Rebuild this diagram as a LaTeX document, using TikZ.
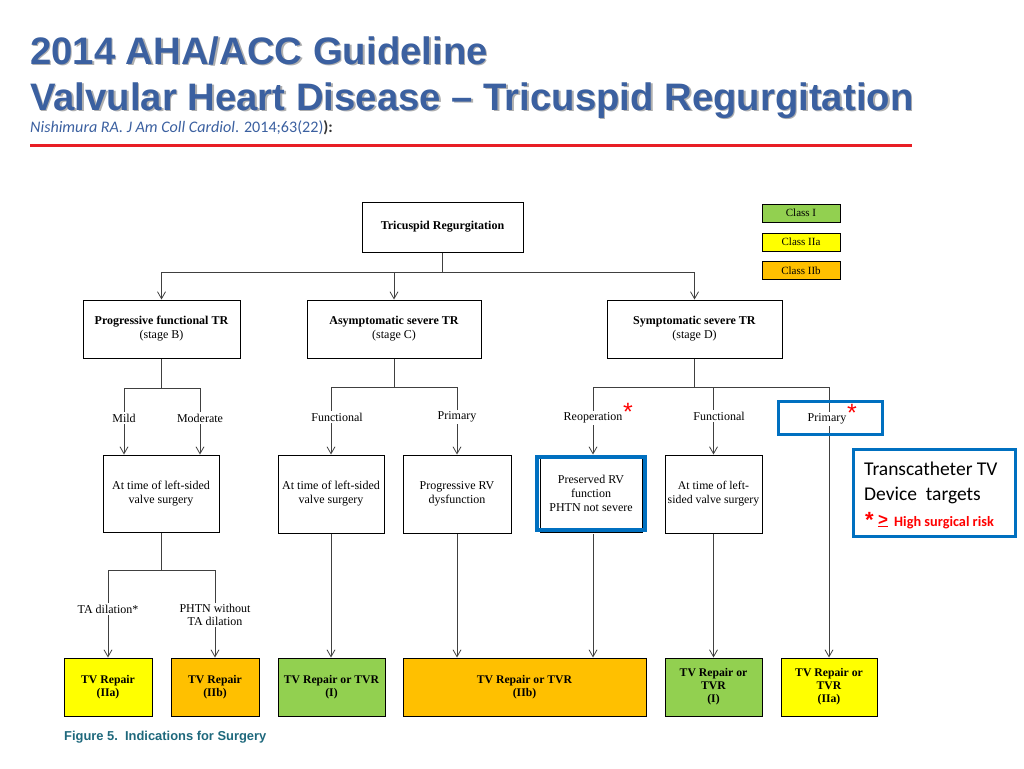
\documentclass[tikz,border=0pt]{standalone}
\usepackage{fontspec}
\setmainfont{Liberation Serif}
\newfontfamily\titlefont{Liberation Sans}
\newfontfamily\calfont{Carlito}
\usetikzlibrary{arrows.meta}
\definecolor{ttl}{RGB}{59,96,160}
\definecolor{ttlshadow}{RGB}{175,175,175}
\definecolor{redline}{RGB}{232,30,37}
\definecolor{cgreen}{RGB}{146,208,80}
\definecolor{cyellow}{RGB}{255,255,0}
\definecolor{corange}{RGB}{255,192,0}
\definecolor{hblue}{RGB}{0,112,192}
\definecolor{lgray}{RGB}{64,64,64}
\definecolor{capcol}{RGB}{30,104,124}
\tikzset{
  box/.style={draw=black, line width=1pt, align=center, inner sep=1pt,
    font=\fontsize{12}{14}\selectfont},
  legbox/.style={box, minimum width=78, minimum height=18, font=\fontsize{11}{12}\selectfont},
  endbox/.style={box, minimum height=58, font=\fontsize{11.7}{13}\selectfont\bfseries},
  conn/.style={draw=lgray, line width=0.9pt},
  arr/.style={conn, -{Straight Barb[length=7pt,width=8pt,line width=0.8pt]}},
  lbl/.style={fill=white, inner sep=1.5pt, align=center, font=\fontsize{12}{13.5}\selectfont},
  ast/.style={text=red, inner sep=0pt, font=\titlefont\fontsize{25}{25}\selectfont},
  hbox/.style={draw=hblue, line width=3.8pt},
  ttlstyle/.style={anchor=base west, inner sep=0, font=\titlefont\bfseries\fontsize{38.3}{40}\selectfont},
  transtxt/.style={anchor=base west, inner sep=0, font=\calfont\fontsize{19.5}{22}\selectfont},
}
\begin{document}
\begin{tikzpicture}[x=1pt,y=-1pt]
\useasboundingbox (0,0) rectangle (1024,768);
% title
\node[ttlstyle, text=ttlshadow] at (31.5,65.5) {2014 AHA/ACC Guideline};
\node[ttlstyle, text=ttl] (t1) at (30,64) {2014 AHA/ACC Guideline};
\node[ttlstyle, text=ttlshadow] at (31.5,111.5) {Valvular Heart Disease – Tricuspid Regurgitation};
\node[ttlstyle, text=ttl] (t2) at (30,110) {Valvular Heart Disease – Tricuspid Regurgitation};
\node[anchor=base west, inner sep=0, text=ttl, font=\calfont\fontsize{16.1}{18}\selectfont] (t3) at (30,132) {\itshape Nishimura RA. J Am Coll Cardiol\upshape . 2014;63(22)\textbf{\color{black!80}):}};
\draw[redline, line width=3pt] (30,145) -- (912,145);

% legend
\node[legbox, fill=cgreen] (cI) at (801,213) {Class I};
\node[legbox, fill=cyellow] (cIIa) at (801,242) {Class IIa};
\node[legbox, fill=corange] (cIIb) at (801,270.5) {Class IIb};

% main boxes
\node[box, minimum width=161, minimum height=50, font=\fontsize{12}{14}\selectfont\bfseries] (tr) at (442.5,227) {Tricuspid Regurgitation};
\node[box, minimum width=157, minimum height=58] (pB) at (161.5,329) {\textbf{Progressive functional TR}\\(stage B)};
\node[box, minimum width=174, minimum height=58] (pC) at (394,329) {\textbf{Asymptomatic severe TR}\\(stage C)};
\node[box, minimum width=175, minimum height=58] (pD) at (694.5,329) {\textbf{Symptomatic severe TR}\\(stage D)};

\node[box, minimum width=116, minimum height=77] (bA) at (161,493.5) {At time of left-sided\\valve surgery};
\node[box, minimum width=106, minimum height=78] (cF) at (331,494) {At time of left-sided\\valve surgery};
\node[box, minimum width=108, minimum height=78] (cP) at (457,494) {Progressive RV\\dysfunction};
\node[box, minimum width=102, minimum height=77] (dR) at (591,493.5) {Preserved RV\\function\\PHTN not severe};
\draw[hblue, line width=3.8pt] ([shift={(-2.5,2.5)}]dR.north west) rectangle ([shift={(2.5,-2.5)}]dR.south east);
\node[box, minimum width=97, minimum height=78, font=\fontsize{11.8}{14}\selectfont] (dF) at (713.5,494) {At time of left-\\sided valve surgery};

% end boxes
\node[endbox, fill=cyellow, minimum width=88] (b1) at (108,687) {TV Repair\\(IIa)};
\node[endbox, fill=corange, minimum width=88] (b2) at (215,687) {TV Repair\\(IIb)};
\node[endbox, fill=cgreen, minimum width=107] (b3) at (331.5,687) {TV Repair or TVR\\(I)};
\node[endbox, fill=corange, minimum width=243] (b4) at (524.5,687) {TV Repair or TVR\\(IIb)};
\node[endbox, fill=cgreen, minimum width=97] (b5) at (713.5,687) {TV Repair or\\TVR\\(I)};
\node[endbox, fill=cyellow, minimum width=96] (b6) at (829,687) {TV Repair or\\TVR\\(IIa)};

% connectors level 1
\coordinate (jT) at (442.5,272);
\draw[conn] (tr.south) -- (jT);
\draw[conn] (pB.north |- jT) -- (pD.north |- jT);
\draw[arr] (pB.north |- jT) -- (pB.north);
\draw[arr] (pC.north |- jT) -- (pC.north);
\draw[arr] (pD.north |- jT) -- (pD.north);

% B branch
\coordinate (jB) at (161.5,388);
\coordinate (jB1) at (124,388);
\coordinate (jB2) at (200,388);
\draw[conn] (pB.south) -- (jB);
\draw[conn] (jB1) -- (jB2);
\draw[arr] (jB1) -- (jB1 |- bA.north);
\draw[arr] (jB2) -- (jB2 |- bA.north);
\coordinate (jA) at (161,570);
\coordinate (jA1) at (108,570);
\coordinate (jA2) at (215,570);
\draw[conn] (bA.south) -- (jA);
\draw[conn] (jA1) -- (jA2);
\draw[arr] (jA1) -- (b1.north);
\draw[arr] (jA2) -- (b2.north);

% C branch
\coordinate (jC) at (394,387);
\coordinate (jC1) at (331,387);
\coordinate (jC2) at (457,387);
\draw[conn] (pC.south) -- (jC);
\draw[conn] (jC1) -- (jC2);
\draw[arr] (jC1) -- (cF.north);
\draw[arr] (jC2) -- (cP.north);
\draw[arr] (cF.south) -- (cF.south |- b3.north);
\draw[arr] (cP.south) -- (cP.south |- b4.north);

% D branch
\coordinate (jD) at (694.5,387);
\coordinate (jD1) at (593,387);
\coordinate (jD2) at (713.5,387);
\coordinate (jD3) at (829,387);
\draw[conn] (pD.south) -- (jD);
\draw[conn] (jD1) -- (jD3);
\draw[arr] (jD1) -- (jD1 |- dR.north);
\draw[arr] (jD2) -- (dF.north);
\draw[arr] (jD3) -- (b6.north);
\coordinate (dRb) at (593,534);
\draw[arr] (dRb) -- (dRb |- b4.north);
\draw[arr] (dF.south) -- (dF.south |- b5.north);

% labels
\node[lbl] (lMild) at (124,418) {Mild};
\node[lbl] (lMod) at (200,418) {Moderate};
\node[lbl] (lFC) at (337,417) {Functional};
\node[lbl] (lPC) at (457,417) {Primary};
\node[lbl] (lTA) at (108,609) {TA dilation*};
\node[lbl] (lPH) at (215,615) {PHTN without\\TA dilation};
\node[lbl] (lRe) at (593,418) {Reoperation};
\node[ast, anchor=west] (aRe) at (lRe.east) [yshift=6pt, xshift=-1pt] {*};
\node[lbl] (lFD) at (719,416) {Functional};
\node[hbox, minimum width=104, minimum height=33, inner sep=0] (pbox) at (830.5,418) {};
\node[lbl] (lPD) at (827,419) {Primary};
\node[ast, anchor=west] (aPD) at (lPD.east) [yshift=6pt, xshift=-1pt] {*};

% transcatheter box
\node[hbox, minimum width=162, minimum height=87, inner sep=0] (trans) at (934.5,493) {};
\node[transtxt] (ttx1) at (864,475) {Transcatheter TV};
\node[transtxt] (ttx2) at (864,500) {Device\ \ targets};
\node[anchor=base west, inner sep=0, text=red, font=\titlefont\bfseries\fontsize{22}{22}\selectfont] (tast) at (865,527) {*};
\node[anchor=base west, inner sep=0, text=red, font=\titlefont\bfseries\fontsize{17}{17}\selectfont] (tge) at (878,525) {\underline{>}};
\node[anchor=base west, inner sep=0, text=red, font=\calfont\bfseries\fontsize{14.3}{15}\selectfont] (tred) at (894,526) {High surgical risk};

% caption
\node[anchor=base west, inner sep=0, text=capcol, font=\titlefont\bfseries\fontsize{12.9}{14}\selectfont] (cap) at (64,740) {Figure 5.\ \ Indications for Surgery};
\end{tikzpicture}
\end{document}
